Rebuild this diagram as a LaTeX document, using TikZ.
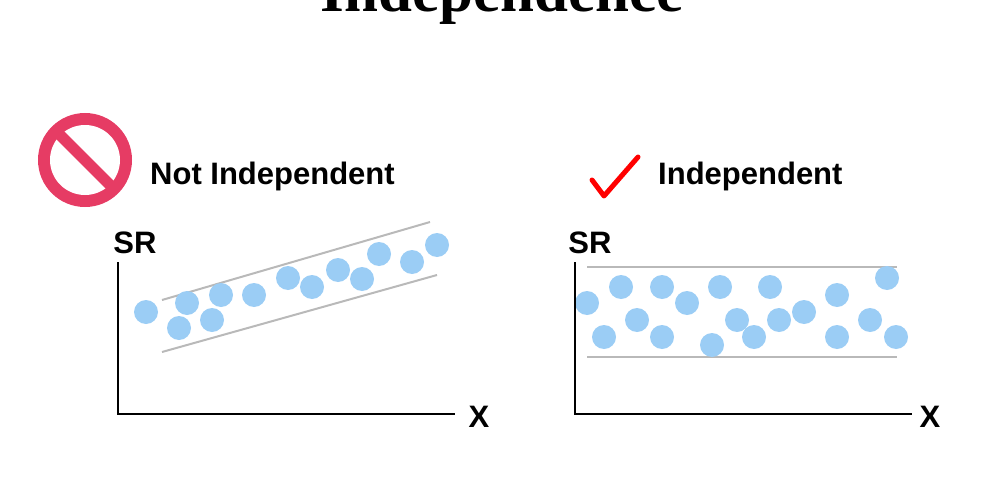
\documentclass[tikz,border=0pt]{standalone}
\usepackage{fontspec}
\setmainfont{Liberation Sans}
\newfontfamily\titlefont{Liberation Serif}
\definecolor{dotblue}{RGB}{155,205,245}
\definecolor{bandgray}{RGB}{185,185,185}
\definecolor{signred}{RGB}{230,60,100}
\tikzset{dot/.style={circle, fill=dotblue, minimum size=24pt, inner sep=0pt},
	band/.style={draw=bandgray, line width=2pt},
	axis/.style={draw=black, line width=2pt},
	lbl/.style={font=\bfseries\fontsize{31}{31}\selectfont, inner sep=0pt}}

\begin{document}
\begin{tikzpicture}[x=1pt, y=-1pt]
	\useasboundingbox (0,0) rectangle (1000,500);
	\clip (0,0) rectangle (1000,500);
	\node[font=\titlefont\bfseries\fontsize{61}{61}\selectfont, anchor=base] (title) at (502,12) {Independence};
	
	% not independent
	\fill[signred] (85,160) circle (47);
	\fill[white] (85,160) circle (35);
	\draw[signred, line width=11pt] (85,160) ++(-135:36) -- ++(45:72);
	\node[lbl, anchor=west] (ni) at (150,176) {Not Independent};
	\coordinate (lo1) at (162,352); \coordinate (lo2) at (437,275);
	\coordinate (hi1) at (162,300); \coordinate (hi2) at (430,222);
	\draw[band] (lo1) -- (lo2);
	\draw[band] (hi1) -- (hi2);
	\foreach \x/\y [count=\i] in {146/312,179/328,187/303,212/320,221/295,254/295,288/278,312/287,338/270,362/279,379/254,412/262,437/245}
		\node[dot] (a\i) at (\x,\y) {};
	\coordinate (ltop) at (118,262); \coordinate (lorig) at (118,414); \coordinate (lend) at (455,414);
	\draw[axis] (ltop) -- (lorig) -- (lend);
	\node[lbl] (lsr) at (135,243) {SR};
	\node[lbl] (lx) at (479,417) {X};
	
	% independent
	\draw[red, line width=5pt, line cap=round, line join=round] (592,180) -- (604,196) -- (638,157);
	\node[lbl, anchor=west] (ind) at (658,176) {Independent};
	\coordinate (b1) at (587,267); \coordinate (b2) at (897,267);
	\coordinate (b3) at (587,357); \coordinate (b4) at (897,357);
	\draw[band] (b1) -- (b2);
	\draw[band] (b3) -- (b4);
	\foreach \x/\y [count=\i] in {587/303,604/337,621/287,637/320,662/287,662/337,687/303,712/345,720/287,737/320,754/337,770/287,779/320,804/312,837/295,837/337,870/320,887/278,896/337}
		\node[dot] (b\i) at (\x,\y) {};
	\coordinate (rtop) at (575,262); \coordinate (rorig) at (575,414); \coordinate (rend) at (912,414);
	\draw[axis] (rtop) -- (rorig) -- (rend);
	\node[lbl] (rsr) at (590,243) {SR};
	\node[lbl] (rx) at (930,417) {X};
\end{tikzpicture}
\end{document}
